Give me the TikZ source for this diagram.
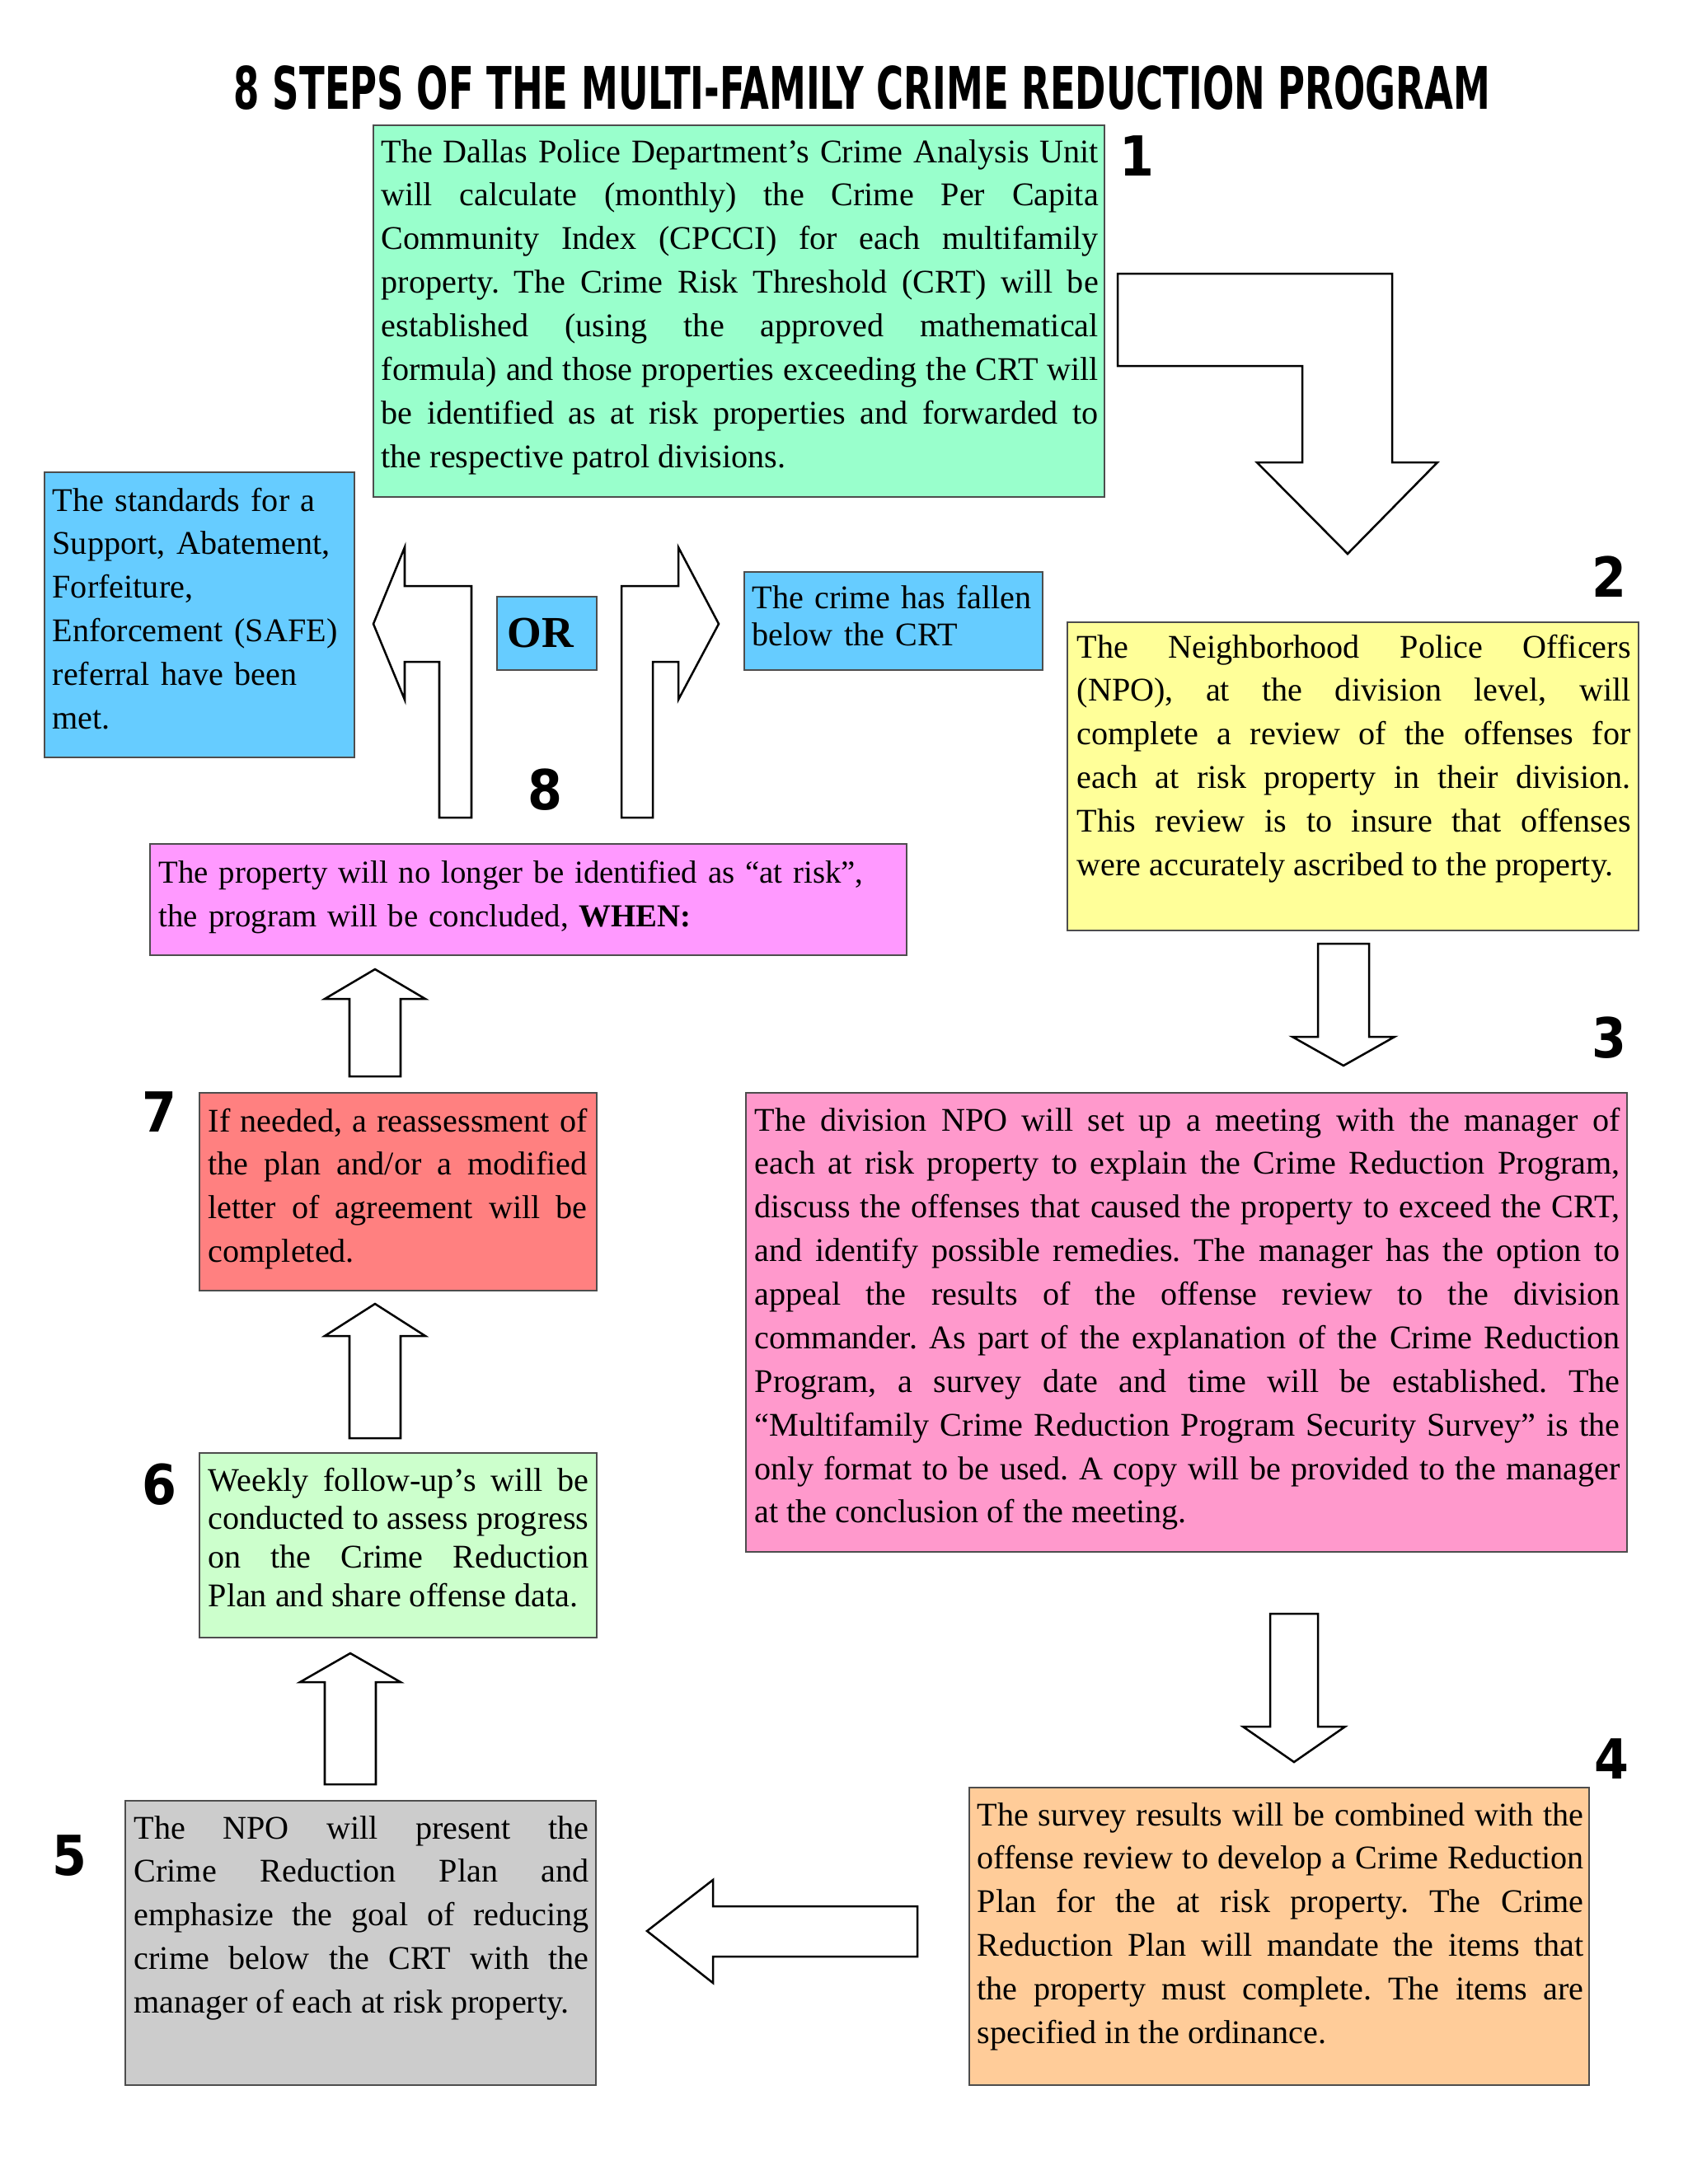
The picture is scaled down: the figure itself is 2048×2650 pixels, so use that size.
\documentclass[tikz,border=0pt]{standalone}
\usepackage{fontspec}
\setmainfont{Liberation Serif}
\newfontfamily\headfont{DejaVu Sans Condensed}
\usepackage{graphicx}
\usepackage{tikz}
\usetikzlibrary{calc}
\definecolor{mint}{HTML}{99FFCC}
\definecolor{lemon}{HTML}{FFFF99}
\definecolor{rose}{HTML}{FF99CC}
\definecolor{peach}{HTML}{FFCC99}
\definecolor{silver}{HTML}{CCCCCC}
\definecolor{paleleaf}{HTML}{CCFFCC}
\definecolor{salmon}{HTML}{FF8080}
\definecolor{orchid}{HTML}{FF99FF}
\definecolor{sky}{HTML}{66CCFF}
\definecolor{boxline}{HTML}{4D4D4D}
\newcommand{\stepfont}{\fontsize{12pt}{15.8pt}\selectfont}
\newcommand{\numfont}{\headfont\bfseries\fontsize{20pt}{20pt}\selectfont}
\frenchspacing
\tolerance=9999
\hbadness=10000
\hyphenpenalty=10000
\tikzset{
    every picture/.style={line join=miter},
    stepbox/.style={draw=boxline,line width=0.5pt,anchor=north west,inner sep=0pt},
    steptext/.style={anchor=base west,inner sep=0pt,align=justify,font=\stepfont},
    sidetext/.style={anchor=base west,inner sep=0pt,align=left,font=\stepfont},
    stepnum/.style={inner sep=0pt,font=\numfont},
    blockarrow/.style={draw=black,line width=0.75pt,fill=white}
}

\begin{document}
\begin{tikzpicture}[x=0.2988pt,y=-0.2988pt]
  % page: 1 unit = 1 pixel of the letter-size sheet
  \fill[white] (0,0) rectangle (2048,2650);
  \useasboundingbox (0,0) rectangle (2048,2650);

  \node[anchor=base,inner sep=0pt] (title) at (1046,132)
    {\resizebox{455.4pt}{15.8pt}{\headfont\bfseries 8 STEPS OF THE MULTI-FAMILY CRIME REDUCTION PROGRAM}};

  % step 1
  \node[stepbox,fill=mint,minimum width=265pt,minimum height=134.8pt] (analysis) at (452,151) {};
  \node[steptext,text width=260pt] (analysisTxt) at ([shift={(10,46)}]analysis.north west)
    {The Dallas Police Department’s Crime Analysis Unit\linebreak
     will calculate (monthly) the Crime Per Capita\linebreak
     Community Index (CPCCI) for each multifamily\linebreak
     property. The Crime Risk Threshold (CRT) will be\linebreak
     established (using the approved mathematical\linebreak
     formula) and those properties exceeding the CRT will\linebreak
     be identified as at risk properties and forwarded to\linebreak
     the respective patrol divisions.};

  % step 2
  \node[stepbox,fill=lemon,minimum width=207.1pt,minimum height=111.8pt] (review) at (1294,754) {};
  \node[steptext,text width=200.8pt] (reviewTxt) at ([shift={(12,44)}]review.north west)
    {The Neighborhood Police Officers\linebreak
     (NPO), at the division level, will\linebreak
     complete a review of the offenses for\linebreak
     each at risk property in their division.\linebreak
     This review is to insure that offenses\linebreak
     were accurately ascribed to the property.};

  % step 3
  \node[stepbox,fill=rose,minimum width=319.4pt,minimum height=166.4pt] (meeting) at (904,1325) {};
  \node[steptext,text width=313.7pt] (meetingTxt) at ([shift={(11,47)}]meeting.north west)
    {The division NPO will set up a meeting with the manager of\linebreak
     each at risk property to explain the Crime Reduction Program,\linebreak
     discuss the offenses that caused the property to exceed the CRT,\linebreak
     and identify possible remedies. The manager has the option to\linebreak
     appeal the results of the offense review to the division\linebreak
     commander. As part of the explanation of the Crime Reduction\linebreak
     Program, a survey date and time will be established. The\linebreak
     “Multifamily Crime Reduction Program Security Survey” is the\linebreak
     only format to be used. A copy will be provided to the manager\linebreak
     at the conclusion of the meeting.};

  % step 4
  \node[stepbox,fill=peach,minimum width=224.7pt,minimum height=107.9pt] (survey) at (1175,2168) {};
  \node[steptext,text width=219.9pt] (surveyTxt) at ([shift={(10,47)}]survey.north west)
    {The survey results will be combined with the\linebreak
     offense review to develop a Crime Reduction\linebreak
     Plan for the at risk property. The Crime\linebreak
     Reduction Plan will mandate the items that\linebreak
     the property must complete. The items are\linebreak
     specified in the ordinance.};

  % step 5
  \node[stepbox,fill=silver,minimum width=170.6pt,minimum height=103.1pt] (present) at (151,2184) {};
  \node[steptext,text width=164.9pt] (presentTxt) at ([shift={(11,47)}]present.north west)
    {The NPO will present the\linebreak
     Crime Reduction Plan and\linebreak
     emphasize the goal of reducing\linebreak
     crime below the CRT with the\linebreak
     manager of each at risk property.};

  % step 6
  \node[stepbox,fill=paleleaf,minimum width=144pt,minimum height=66.9pt] (weekly) at (241,1762) {};
  \node[steptext,text width=138pt,font=\fontsize{12pt}{14pt}\selectfont] (weeklyTxt) at ([shift={(11,47)}]weekly.north west)
    {Weekly follow-up’s will be\linebreak
     conducted to assess progress\linebreak
     on the Crime Reduction\linebreak
     Plan and share offense data.};

  % step 7
  \node[stepbox,fill=salmon,minimum width=144pt,minimum height=71.7pt] (reassess) at (241,1325) {};
  \node[steptext,text width=137.4pt] (reassessTxt) at ([shift={(11,48)}]reassess.north west)
    {If needed, a reassessment of\linebreak
     the plan and/or a modified\linebreak
     letter of agreement will be\linebreak
     completed.};

  % step 8 and its two outcomes
  \node[stepbox,fill=orchid,minimum width=274.3pt,minimum height=40.3pt] (concluded) at (181,1023) {};
  \node[sidetext,text width=300pt,font=\fontsize{11.6pt}{16.1pt}\selectfont] (concludedTxt) at ([shift={(11,48)}]concluded.north west)
    {The property will no longer be identified as “at risk”,\\
     the program will be concluded, \textbf{WHEN:}};

  \node[stepbox,fill=sky,minimum width=112.3pt,minimum height=103.4pt] (safe) at (53,572) {};
  \node[sidetext,text width=107.6pt] (safeTxt) at ([shift={(10,48)}]safe.north west)
    {The standards for a\\ Support, Abatement,\\ Forfeiture,\\ Enforcement (SAFE)\\ referral have been\\ met.};

  \node[stepbox,fill=sky,minimum width=108.2pt,minimum height=35.6pt] (fallen) at (902,693) {};
  \node[sidetext,text width=103pt,font=\fontsize{12pt}{13.6pt}\selectfont] (fallenTxt) at ([shift={(10,45)}]fallen.north west)
    {The crime has fallen\\ below the CRT};

  \node[stepbox,fill=sky,minimum width=36.2pt,minimum height=26.6pt,inner xsep=3.9pt,
    text width=28.4pt,align=left,font=\bfseries\fontsize{16pt}{16pt}\selectfont] (orlabel) at (602,723) {OR};

  % step numbers
  \node[stepnum] (n1) at (1379,189) {1};
  \node[stepnum] (n2) at (1952,700) {2};
  \node[stepnum] (n3) at (1952,1259) {3};
  \node[stepnum] (n4) at (1955,2134) {4};
  \node[stepnum] (n5) at (84,2252) {5};
  \node[stepnum] (n6) at (193,1801) {6};
  \node[stepnum] (n7) at (193,1349) {7};
  \node[stepnum] (n8) at (661,958) {8};

  % bent arrow 1 -> 2
  \draw[blockarrow] (1356,332) -- (1689,332) -- (1689,561) -- (1744,561) -- (1635,672)
    -- (1525,561) -- (1580,561) -- (1580,444) -- (1356,444) -- cycle;

  % down arrows 2 -> 3 and 3 -> 4
  \foreach \cx/\sw/\hw/\ytop/\yneck/\ytip in {1630/31/62/1145/1258/1293,1570/29/62/1958/2095/2138}
    \draw[blockarrow] (\cx-\sw,\ytop) -- (\cx+\sw,\ytop) -- (\cx+\sw,\yneck) -- (\cx+\hw,\yneck)
      -- (\cx,\ytip) -- (\cx-\hw,\yneck) -- (\cx-\sw,\yneck) -- cycle;

  % arrow 4 -> 5
  \draw[blockarrow] (1113,2313) -- (865,2313) -- (865,2281) -- (785,2343) -- (865,2406)
    -- (865,2374) -- (1113,2374) -- cycle;

  % up arrows 5 -> 6, 6 -> 7, 7 -> 8
  \foreach \cx/\ytail/\yneck/\ytip in {425/2165/2041/2006,455/1745/1621/1582,455/1306/1212/1176}
    \draw[blockarrow] (\cx-31,\ytail) -- (\cx-31,\yneck) -- (\cx-61,\yneck) -- (\cx,\ytip)
      -- (\cx+61,\yneck) -- (\cx+31,\yneck) -- (\cx+31,\ytail) -- cycle;

  % the two ways out of step 8
  \draw[blockarrow] (533,992) -- (572,992) -- (572,711) -- (491,711) -- (491,664) -- (453,757)
    -- (491,849) -- (491,803) -- (533,803) -- cycle;
  \draw[blockarrow] (754,992) -- (792,992) -- (792,803) -- (823,803) -- (823,849) -- (872,757)
    -- (823,664) -- (823,711) -- (754,711) -- cycle;
\end{tikzpicture}
\end{document}
